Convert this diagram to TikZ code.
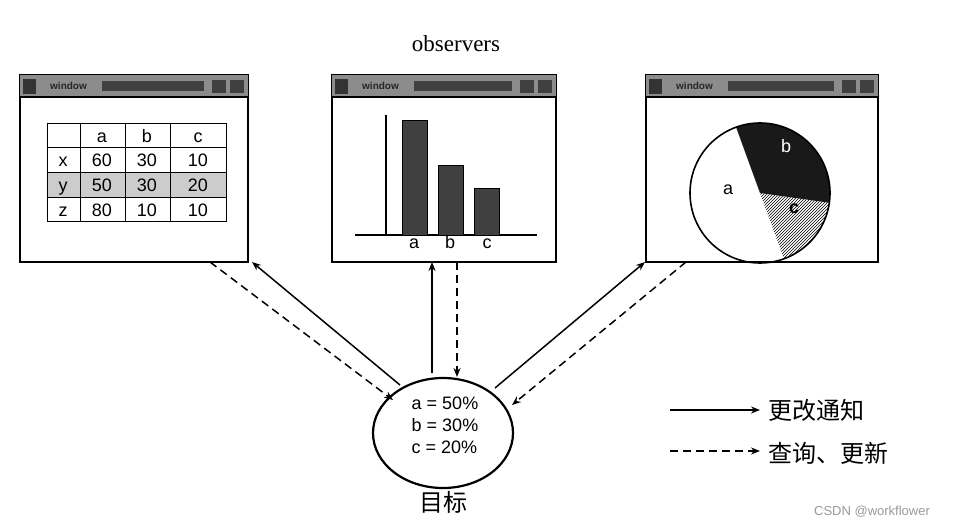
\documentclass[tikz,border=0pt]{standalone}
\usepackage{fontspec}
\setmainfont{Liberation Serif}
\newfontfamily\sans{Liberation Sans}
\newfontfamily\cjk{Noto Sans CJK SC}
\usetikzlibrary{arrows.meta,patterns,shapes.geometric}
\begin{document}
\begin{tikzpicture}[x=1pt,y=-1pt,
  win/.style={draw,line width=1.4pt,fill=white},
  bar/.style={fill=black!75,draw=black},
  arr/.style={-{Stealth[length=9pt,width=7pt]},line width=1.5pt},
  darr/.style={arr,dash pattern=on 8pt off 5pt},
  lbl/.style={font=\sans\fontsize{18}{18}\selectfont,inner sep=0pt,anchor=base,yshift=-6.5pt}]
\useasboundingbox (0,0) rectangle (955,529);
% windows
\foreach \n/\xa/\xb in {w1/20/248,w2/332/556,w3/646/878}{
  \draw[win] (\xa,75) rectangle (\xb,262);
  \fill[black!45] (\xa,75) rectangle (\xb,97);
  \fill[black!80] (\xa+3,79) rectangle (\xa+16,94);
  \fill[black!75] (\xa+82,81) rectangle (\xb-44,91);
  \node[font=\sans\bfseries\fontsize{10}{10}\selectfont,text=black!85,anchor=west,inner sep=0pt] at (\xa+30,86) {window};
  \fill[black!75] (\xb-36,80) rectangle (\xb-22,93);
  \fill[black!75] (\xb-18,80) rectangle (\xb-4,93);
  \draw[line width=1.2pt] (\xa,97) -- (\xb,97);
  \coordinate (\n) at (\xa,262);
}
\coordinate (w1a) at (252,262); \coordinate (w1d) at (210,262);
\coordinate (w2a) at (432,262); \coordinate (w2d) at (457,262);
\coordinate (w3a) at (645,262); \coordinate (w3d) at (686,262);
% table
\fill[black!20] (47,173) rectangle (226,198);
\draw[line width=1pt] (47,124) rectangle (226,222);
\foreach \y in {148,173,198} \draw[line width=1pt] (47,\y)--(226,\y);
\foreach \x in {80,125,170} \draw[line width=1pt] (\x,124)--(\x,222);
\foreach \t/\x/\y in {a/102/136,b/147/136,c/198/136,x/63/160,60/102/160,30/147/160,10/198/160,
  y/63/185,50/102/185,30/147/185,20/198/185,z/63/210,80/102/210,10/147/210,10/198/210}
  \node[lbl] at (\x,\y) {\t};
% bar chart
\draw[line width=1.2pt] (386,115)--(386,235);
\draw[line width=1.2pt] (355,235)--(537,235);
\draw[bar] (402,120) rectangle (427,235);
\draw[bar] (438,165) rectangle (463,235);
\draw[bar] (474,188) rectangle (499,235);
\node[lbl] at (414,242) {a};
\node[lbl] at (450,242) {b};
\node[lbl] at (487,242) {c};
% pie
\begin{scope}[shift={(760,193)},y=1pt]
  \fill[black!90] (0,0) -- (110:70) arc[start angle=110,end angle=-8,radius=70] -- cycle;
  \fill[pattern=north east lines] (0,0) -- (-8:70) arc[start angle=-8,end angle=-70,radius=70] -- cycle;
\end{scope}
\draw[line width=1.6pt] (760,193) circle (70);
\node[lbl,text=white] at (786,146) {b};
\node[lbl] at (728,188) {a};
\node[lbl,font=\sans\bfseries\fontsize{18}{18}\selectfont] at (794,207) {c};
% subject
\node[draw,ellipse,line width=2.2pt,minimum width=140pt,minimum height=110pt,inner sep=0pt] (s) at (443,433) {};
\node[inner sep=0pt,align=left,font=\sans\fontsize{18}{22}\selectfont] at (445,425) {a = 50\%\\b = 30\%\\c = 20\%};
\coordinate (s1) at (400,385); \coordinate (s1d) at (393,400);
\coordinate (s2) at (432,373); \coordinate (s2d) at (457,377);
\coordinate (s3) at (495,388); \coordinate (s3d) at (512,405);
\draw[arr] (s1) -- (w1a);
\draw[darr] (w1d) -- (s1d);
\draw[arr] (s2) -- (w2a);
\draw[darr] (w2d) -- (s2d);
\draw[arr] (s3) -- (w3a);
\draw[darr] (w3d) -- (s3d);
% labels
\node[font=\fontsize{23}{23}\selectfont] at (456,44) {observers};
\node[font=\cjk\fontsize{24}{24}\selectfont] at (443,502) {目标};
\coordinate (l1a) at (670,410); \coordinate (l1b) at (760,410);
\coordinate (l2a) at (670,451); \coordinate (l2b) at (760,451);
\draw[arr] (l1a) -- (l1b);
\draw[darr] (l2a) -- (l2b);
\node[font=\cjk\fontsize{24}{24}\selectfont,anchor=west] at (765,410) {更改通知};
\node[font=\cjk\fontsize{24}{24}\selectfont,anchor=west] at (765,453) {查询、更新};
\node[font=\sans\fontsize{13}{13}\selectfont,text=black!40] at (872,512) {CSDN @workflower};
\end{tikzpicture}
\end{document}
